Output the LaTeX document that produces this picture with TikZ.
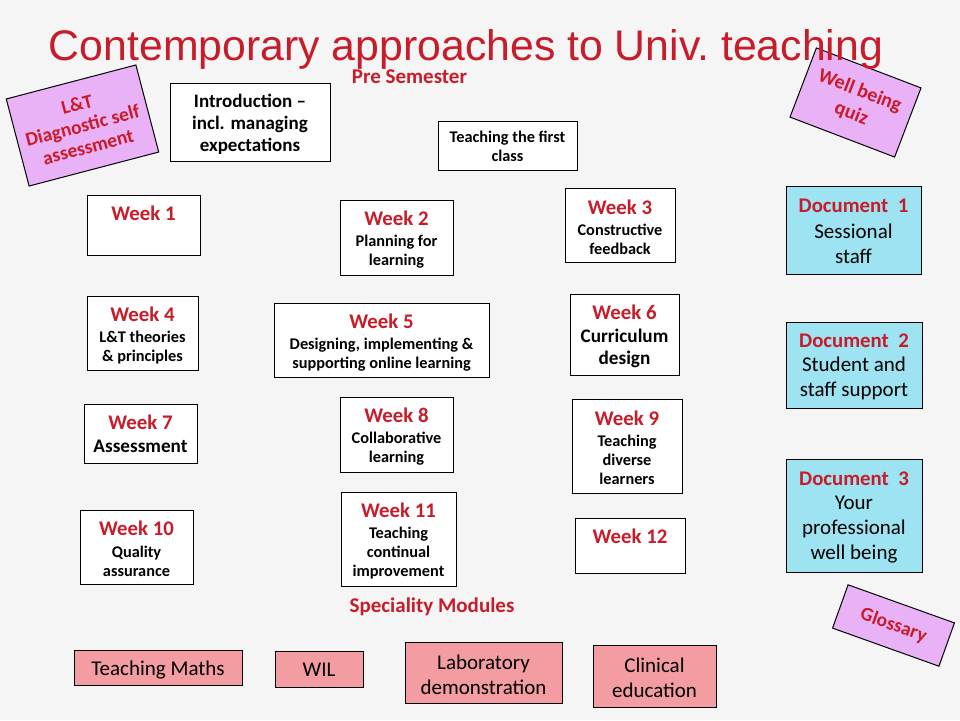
\documentclass[tikz,border=0pt]{standalone}
\usepackage{fontspec}
\setmainfont{Carlito}
\newfontfamily\titlefont{Liberation Sans}
\definecolor{tred}{RGB}{200,28,42}
\definecolor{bgc}{RGB}{245,245,245}
\definecolor{pinkc}{RGB}{233,178,247}
\definecolor{cyanc}{RGB}{157,227,242}
\definecolor{salc}{RGB}{243,156,161}
\tikzset{
  box/.style={draw=black, line width=1pt, fill=white, inner sep=0pt},
  docbox/.style={box, fill=cyanc},
  modbox/.style={box, fill=salc},
  notebox/.style={box, fill=pinkc},
  wtitle/.style={text=tred, font=\bfseries\fontsize{20.8}{24}\selectfont, inner sep=0pt},
  wsub/.style={text=black, align=center, font=\bfseries\fontsize{16.3}{19}\selectfont, inner sep=0pt},
  wsubbig/.style={text=black, align=center, font=\bfseries\fontsize{19.2}{22}\selectfont, inner sep=0pt},
  dsub/.style={text=black, align=center, font=\fontsize{21}{25}\selectfont, inner sep=0pt},
  modtext/.style={text=black, align=center, font=\fontsize{21}{25}\selectfont, inner sep=0pt},
  redhead/.style={text=tred, font=\bfseries\fontsize{21}{24}\selectfont, inner sep=0pt},
  notetext/.style={text=tred, align=center, font=\bfseries\fontsize{19.5}{22}\selectfont, inner sep=0pt},
}
\begin{document}
\begin{tikzpicture}[x=1pt,y=-1pt]
\fill[bgc] (0,0) rectangle (960,720);
\useasboundingbox (0,0) rectangle (960,720);

% rotated notes
\node[notebox, rotate=14.7, minimum width=134pt, minimum height=90pt, notetext, fill=pinkc] (lt) at (82.5,125.5) {L\&T\\Diagnostic self\\assessment};
\node[notebox, rotate=-20.9, minimum width=112pt, minimum height=74pt, notetext, fill=pinkc, font=\bfseries\fontsize{20}{24}\selectfont] (wb) at (855.5,102.5) {Well being\\quiz};
\node[notebox, rotate=-19.7, minimum width=113pt, minimum height=46pt, notetext, fill=pinkc] (gl) at (893.5,625.5) {Glossary};

% title
\node[text=tred, font=\titlefont\fontsize{42.8}{48}\selectfont, anchor=base, inner sep=0pt] (title) at (466,60) {Contemporary approaches to Univ.\ teaching};
\node[redhead] (pre) at (409.5,77) {Pre Semester};

% pre semester boxes
\node[box, minimum width=160pt, minimum height=78pt] (intro) at (250,122) {};
\node[wsub, font=\bfseries\fontsize{19}{22}\selectfont] (introt) at (250,124) {Introduction --\\incl. managing\\expectations};
\node[box, minimum width=139pt, minimum height=49pt] (first) at (507.5,145.5) {};
\node[wsub] (firstt) at (507.5,146.5) {Teaching the first\\class};

% weeks
\node[box, minimum width=113pt, minimum height=60pt] (w1) at (143.5,225) {};
\node[wtitle] (w1t) at (143.5,213.5) {Week 1};

\node[box, minimum width=113pt, minimum height=75pt] (w2) at (396.5,237.5) {};
\node[wtitle] (w2t) at (396.5,218.5) {Week 2};
\node[wsub] (w2s) at (396.5,251.5) {Planning for\\learning};

\node[box, minimum width=110pt, minimum height=74pt] (w3) at (620,225) {};
\node[wtitle] (w3t) at (620,207.5) {Week 3};
\node[wsub] (w3s) at (620,239.5) {Constructive\\feedback};

\node[box, minimum width=111pt, minimum height=74pt] (w4) at (142.5,333) {};
\node[wtitle] (w4t) at (142.5,314.5) {Week 4};
\node[wsub] (w4s) at (142.5,347.5) {L\&T theories\\\& principles};

\node[box, minimum width=215pt, minimum height=74pt] (w5) at (381.5,340) {};
\node[wtitle] (w5t) at (381.5,321.5) {Week 5};
\node[wsub] (w5s) at (381.5,354.5) {Designing, implementing \&\\supporting online learning};

\node[box, minimum width=109pt, minimum height=81pt] (w6) at (624.5,334.5) {};
\node[wtitle] (w6t) at (624.5,312.5) {Week 6};
\node[wsubbig] (w6s) at (624.5,348) {Curriculum\\design};

\node[box, minimum width=113pt, minimum height=59pt] (w7) at (140.5,433.5) {};
\node[wtitle] (w7t) at (140.5,422.5) {Week 7};
\node[wsubbig] (w7s) at (140.5,446.5) {Assessment};

\node[box, minimum width=113pt, minimum height=75pt] (w8) at (396.5,434.5) {};
\node[wtitle] (w8t) at (396.5,415.5) {Week 8};
\node[wsub] (w8s) at (396.5,448.5) {Collaborative\\learning};

\node[box, minimum width=110pt, minimum height=94pt] (w9) at (627,446) {};
\node[wtitle] (w9t) at (627,418.5) {Week 9};
\node[wsub] (w9s) at (627,460) {Teaching\\diverse\\learners};

\node[box, minimum width=113pt, minimum height=74pt] (w10) at (136.5,547) {};
\node[wtitle] (w10t) at (136.5,528.5) {Week 10};
\node[wsub] (w10s) at (136.5,561.5) {Quality\\assurance};

\node[box, minimum width=115pt, minimum height=94pt] (w11) at (398.5,539) {};
\node[wtitle] (w11t) at (398.5,510.5) {Week 11};
\node[wsub] (w11s) at (398.5,553) {Teaching\\continual\\improvement};

\node[box, minimum width=110pt, minimum height=55pt] (w12) at (630,545.5) {};
\node[wtitle] (w12t) at (630,536.5) {Week 12};

% documents
\node[docbox, minimum width=135pt, minimum height=88pt] (d1) at (853.5,230) {};
\node[wtitle] (d1t) at (853.5,205.5) {Document\ \ 1};
\node[dsub] (d1s) at (853.5,243.5) {Sessional\\staff};

\node[docbox, minimum width=136pt, minimum height=86pt] (d2) at (854,365) {};
\node[wtitle] (d2t) at (854,340.5) {Document\ \ 2};
\node[dsub] (d2s) at (854,378.5) {Student and\\staff support};

\node[docbox, minimum width=136pt, minimum height=113pt] (d3) at (854,515.5) {};
\node[wtitle] (d3t) at (854,478.5) {Document\ \ 3};
\node[dsub] (d3s) at (854,529.5) {Your\\professional\\well being};

% speciality modules
\node[redhead] (spec) at (432,607) {Speciality Modules};
\node[modbox, minimum width=168pt, minimum height=35pt] (tm) at (158,667.5) {};
\node[modtext] (tmt) at (158,670) {Teaching Maths};
\node[modbox, minimum width=88pt, minimum height=36pt] (wil) at (319,669) {};
\node[modtext] (wilt) at (319,669.5) {WIL};
\node[modbox, minimum width=157pt, minimum height=61pt] (lab) at (483.5,672.5) {};
\node[modtext] (labt) at (483.5,674.5) {Laboratory\\demonstration};
\node[modbox, minimum width=123pt, minimum height=62pt] (cli) at (654.5,676) {};
\node[modtext] (clit) at (654.5,677.5) {Clinical\\education};
\end{tikzpicture}
\end{document}
